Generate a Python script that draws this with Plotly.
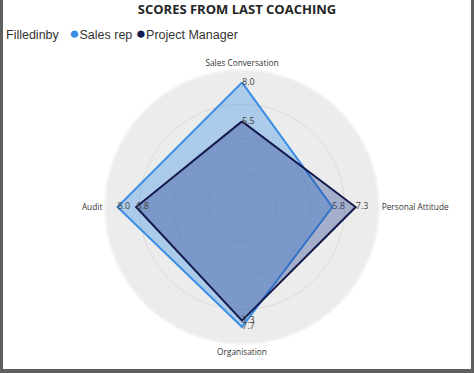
import plotly.graph_objects as go

categories = ["Sales Conversation", "Personal Attitude", "Organisation", "Audit"]
sales_rep = [8.0, 5.8, 7.7, 8.0]
project_manager = [5.5, 7.3, 7.3, 6.8]
series_names = ["Sales rep", "Project Manager"]
legend_title = "Filledinby"
chart_title = "SCORES FROM LAST COACHING"

W, H = 474, 373
fig = go.Figure()

def closed(v):
    return list(v) + [v[0]]

styles = [
    dict(line="#3a8ee6", fill="rgba(55,140,230,0.35)"),
    dict(line="#141b4d", fill="rgba(33,60,140,0.35)"),
]

for name, vals, st in zip(series_names, [sales_rep, project_manager], styles):
    fig.add_trace(go.Scatterpolar(
        r=closed(vals), theta=closed(categories),
        mode="lines+text", fill="toself", fillcolor=st["fill"],
        line=dict(color=st["line"], width=2),
        text=[f"{v:.1f}" for v in vals] + [""],
        textposition="middle right",
        textfont=dict(family="Open Sans", size=9, color="#444"),
        showlegend=False, name=name, hoverinfo="r+theta+name",
    ))

legend_html = legend_title + "&nbsp;&nbsp;&nbsp;" + "".join(
    f"<span style='color:{st['line']};font-size:17px'>●</span>{name}&nbsp;"
    for name, st in zip(series_names, styles)
)

cx, cy, rad = 242, 207, 137
fig.update_layout(
    width=W, height=H,
    margin=dict(l=0, r=0, t=0, b=0),
    paper_bgcolor="white",
    showlegend=False,
    title=dict(text=f"<b>{chart_title}</b>", x=0.5, xanchor="center",
               y=1 - 9 / H, yanchor="middle", yref="container",
               font=dict(family="Open Sans", size=13, color="#252525")),
    annotations=[dict(text=legend_html, xref="paper", yref="paper",
                      x=4 / W, y=1 - 33 / H, xanchor="left", yanchor="middle",
                      showarrow=False,
                      font=dict(family="Liberation Sans", size=12.5, color="#333"))],
    polar=dict(
        domain=dict(x=[(cx - rad) / W, (cx + rad) / W],
                    y=[(H - cy - rad) / H, (H - cy + rad) / H]),
        bgcolor="#ececec",
        radialaxis=dict(range=[0, 8.8], tickvals=[2.2, 4.4, 6.6], showticklabels=False,
                        showline=False, ticks="", gridcolor="#dcdcdc", gridwidth=1),
        angularaxis=dict(rotation=90, direction="clockwise", showgrid=False,
                         showline=True, linecolor="#f4f4f4", linewidth=2, ticks="",
                         tickfont=dict(family="Open Sans", size=8.3, color="#333")),
    ),
    shapes=[
        dict(type="rect", xref="paper", yref="paper", x0=0, x1=3 / W, y0=0, y1=1,
             fillcolor="#5f5f5f", line=dict(width=0)),
        dict(type="rect", xref="paper", yref="paper", x0=1 - 3 / W, x1=1, y0=0, y1=1,
             fillcolor="#5f5f5f", line=dict(width=0)),
        dict(type="rect", xref="paper", yref="paper", x0=0, x1=1, y0=0, y1=4 / H,
             fillcolor="#5f5f5f", line=dict(width=0)),
    ],
)

fig.write_html("out.html", config={"displayModeBar": False},
               post_script="document.body.style.margin='0';document.body.style.overflow='hidden';")
